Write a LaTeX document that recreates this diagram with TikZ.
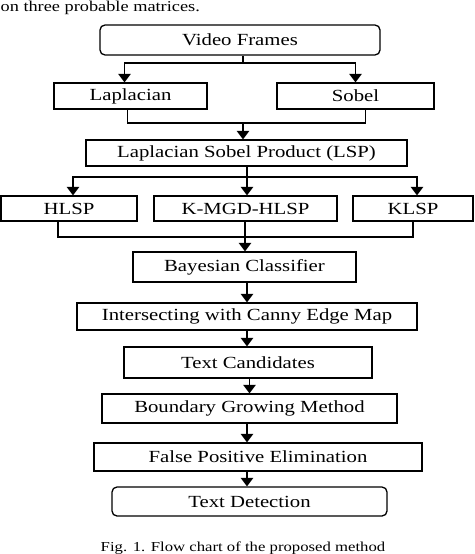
\documentclass[tikz,border=0pt]{standalone}
\usepackage{fontspec}
\setmainfont{Liberation Serif}[FakeStretch=1.22]
\usetikzlibrary{arrows.meta}
\begin{document}
\begin{tikzpicture}[x=1pt,y=-1pt,line width=1.3pt]
  \tikzstyle{block}=[rectangle,draw=black,inner sep=0pt,font=\fontsize{17}{20}\selectfont]
  \tikzstyle{term}=[block,rounded corners=5pt]
  \tikzstyle{arr}=[-{Triangle[length=8.5pt,width=12.5pt]}]
  \useasboundingbox (0,0) rectangle (474,554);

  \node[anchor=base west,inner sep=0pt,font=\fontsize{15}{18}\selectfont] (top) at (0,11)
        {on three probable matrices.};

  \node[term,minimum width=280pt,minimum height=30pt] (VF) at (240,40) {Video Frames};
  \node[block,minimum width=153pt,minimum height=26pt] (Lap) at (130.5,96) {Laplacian};
  \node[block,minimum width=157pt,minimum height=26pt] (Sob) at (355.5,96) {Sobel};
  \node[block,minimum width=321pt,minimum height=26pt] (LSP) at (246.5,153)
        {Laplacian Sobel Product (LSP)};
  \node[block,minimum width=136pt,minimum height=25pt] (HLSP) at (69,208.5) {HLSP};
  \node[block,minimum width=183pt,minimum height=25pt] (KMGD) at (245.5,208.5) {K-MGD-HLSP};
  \node[block,minimum width=120pt,minimum height=25pt] (KLSP) at (413,208.5) {KLSP};
  \node[block,minimum width=223pt,minimum height=30pt] (Bay) at (244.5,267) {Bayesian Classifier};
  \node[block,minimum width=340pt,minimum height=27pt] (Int) at (247,316.5)
        {Intersecting with Canny Edge Map};
  \node[block,minimum width=248pt,minimum height=31pt] (TC) at (248,362.5) {Text Candidates};
  \node[block,minimum width=295pt,minimum height=29pt] (BGM) at (249.5,408.5)
        {Boundary Growing Method};
  \node[block,minimum width=328pt,minimum height=28pt] (FPE) at (258,457)
        {False Positive Elimination};
  \node[term,minimum width=275pt,minimum height=29pt] (TD) at (249.5,501.5) {Text Detection};

  % junctions
  \coordinate (J_1) at (243,63);
  \coordinate (J_2) at (243,123);
  \coordinate (J_3) at (247,177);
  \coordinate (J_4) at (245,237);

  \draw (VF.south -| J_1) -- (J_1);
  \draw[arr] (J_1) -| ([xshift=-6pt]Lap.north);
  \draw[arr] (J_1) -| (Sob.north);

  \draw ([xshift=-3pt]Lap.south) |- (J_2);
  \draw ([xshift=10pt]Sob.south) |- (J_2);
  \draw[arr] (J_2) -- (J_2 |- LSP.north);

  \draw (LSP.south -| J_3) -- (J_3);
  \draw[arr] (J_3) -| ([xshift=4pt]HLSP.north);
  \draw[arr] (J_3) -- (J_3 |- KMGD.north);
  \draw[arr] (J_3) -| ([xshift=4pt]KLSP.north);

  \draw ([xshift=-11pt]HLSP.south) |- (J_4);
  \draw (KLSP.south) |- (J_4);
  \draw (KMGD.south -| J_4) -- (J_4);
  \draw[arr] (J_4) -- (J_4 |- Bay.north);

  \draw[arr] (Bay.south -| Int.north) -- (Int.north);
  \draw[arr] (Int.south) -- (Int.south |- TC.north);
  \draw[arr] (TC.south -| BGM.north) -- (BGM.north);
  \draw[arr] (BGM.south -| Int.north) -- (Int.north |- FPE.north);
  \draw[arr] (FPE.south -| Int.north) -- (Int.north |- TD.north);

  \node[anchor=base,inner sep=0pt,font=\fontsize{13.7}{16}\selectfont] (cap) at (243,551)
        {Fig. 1. Flow chart of the proposed method};
\end{tikzpicture}
\end{document}
